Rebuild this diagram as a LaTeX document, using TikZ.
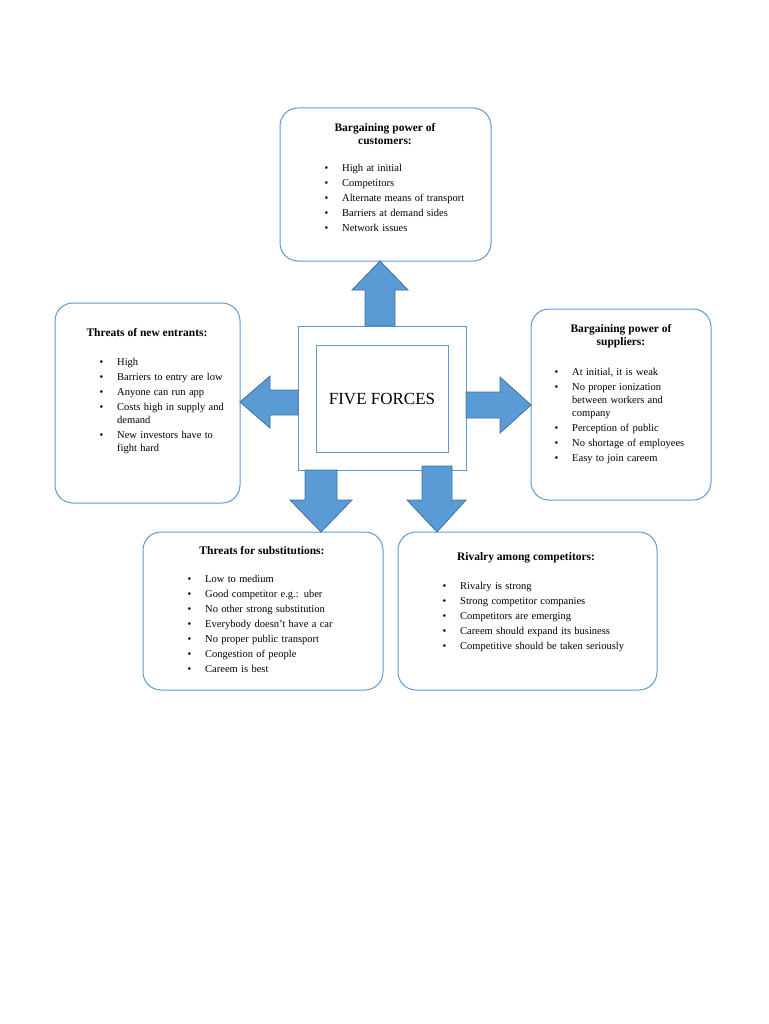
\documentclass[tikz,border=0pt]{standalone}
\usepackage{fontspec}
\setmainfont{Liberation Serif}
\usepackage{enumitem}
\definecolor{bline}{HTML}{5B9BD5}
\definecolor{afill}{HTML}{5B9BD5}
\definecolor{aline}{HTML}{41719C}
\newcommand{\blist}[1]{\fontsize{10.5}{13}\selectfont\begin{itemize}[leftmargin=22pt,labelsep=14pt,itemsep=2pt,parsep=0pt,topsep=0pt,partopsep=0pt]#1\end{itemize}}
\begin{document}
\begin{tikzpicture}[x=1pt,y=-1pt,
 box/.style={draw=bline,line width=1pt,rounded corners=18pt},
 ttl/.style={font=\fontsize{11.5}{13}\selectfont\bfseries,align=center},
 lst/.style={anchor=north west,inner sep=0pt},
 arr/.style={fill=afill,draw=aline,line width=0.8pt}]
\useasboundingbox (0,0) rectangle (768,1024);
% boxes
\draw[box] (280,108) rectangle (491,261);
\draw[box] (55,303) rectangle (240,503);
\draw[box] (531,309) rectangle (711,500);
\draw[box] (143,532) rectangle (383,690);
\draw[box] (398,532) rectangle (657,690);
% center
\node[draw=bline,line width=1pt,minimum width=168pt,minimum height=144pt] (c) at (382,398) {};
\node[draw=bline,line width=0.8pt,minimum width=132pt,minimum height=107pt,font=\fontsize{17}{19}\selectfont] (ci) at (382,398.5) {FIVE FORCES};
% arrows
\draw[arr] (365,326) -- (365,290) -- (352,290) -- (380,261) -- (408,290) -- (395,290) -- (395,326) -- cycle;
\draw[arr] (298,390) -- (270,390) -- (270,376) -- (240,402) -- (270,428) -- (270,415) -- (298,415) -- cycle;
\draw[arr] (466,392) -- (500,392) -- (500,377) -- (531,405) -- (500,433) -- (500,418) -- (466,418) -- cycle;
\draw[arr] (305,470) -- (305,500) -- (290,500) -- (321,532) -- (352,500) -- (337,500) -- (337,470) -- cycle;
\draw[arr] (422,466) -- (422,500) -- (407,500) -- (437,532) -- (466,500) -- (452,500) -- (452,466) -- cycle;
% titles
\node[ttl] (t1) at (385,134) {Bargaining power of\\customers:};
\node[ttl] (t2) at (147,333) {Threats of new entrants:};
\node[ttl] (t3) at (621,336) {Bargaining power of\\suppliers:};
\node[ttl] (t4) at (262,551) {Threats for substitutions:};
\node[ttl] (t5) at (526,558) {Rivalry among competitors:};
% lists
\node[lst,text width=150pt] (l1) at (320,158) {\blist{\item High at initial \item Competitors \item Alternate means of transport \item Barriers at demand sides \item Network issues}};
\node[lst,text width=140pt] (l2) at (95,352) {\blist{\item High \item Barriers to entry are low \item Anyone can run app \item Costs high in supply and demand \item New investors have to fight hard}};
\node[lst,text width=135pt] (l3) at (550,362) {\blist{\item At initial, it is weak \item No proper ionization between workers and company \item Perception of public \item No shortage of employees \item Easy to join careem}};
\node[lst,text width=190pt] (l4) at (183,569) {\blist{\item Low to medium \item Good competitor e.g.: uber \item No other strong substitution \item Everybody doesn't have a car \item No proper public transport \item Congestion of people \item Careem is best}};
\node[lst,text width=210pt] (l5) at (438,576) {\blist{\item Rivalry is strong \item Strong competitor companies \item Competitors are emerging \item Careem should expand its business \item Competitive should be taken seriously}};
\end{tikzpicture}
\end{document}
